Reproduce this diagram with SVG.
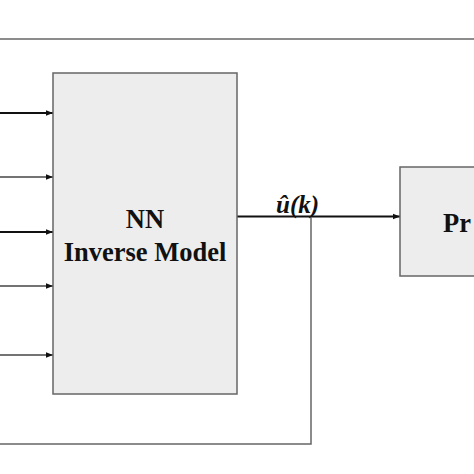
<svg xmlns="http://www.w3.org/2000/svg" width="474" height="474" viewBox="0 0 474 474">
<style>
.box{fill:#ededed;stroke:#666;stroke-width:1.5}
.ln{fill:none;stroke:#666;stroke-width:1.5}
.dk{fill:none;stroke:#111;stroke-width:2}
.md{fill:none;stroke:#444;stroke-width:1.3}
.t{font-family:"Liberation Serif","Times New Roman",serif;font-weight:bold;fill:#111}
</style>
<defs>
<marker id="ah" viewBox="0 0 10 10" refX="10" refY="5" markerWidth="7" markerHeight="7" markerUnits="userSpaceOnUse" orient="auto">
<path d="M0,1 L10,5 L0,9 z" fill="#111"/>
</marker>
</defs>
<rect width="474" height="474" fill="#fff"/>
<g id="connectors">
<line class="ln" x1="0" y1="39" x2="474" y2="39"/>
<line class="dk" x1="0" y1="113" x2="53" y2="113" marker-end="url(#ah)"/>
<line class="md" x1="0" y1="177" x2="53" y2="177" marker-end="url(#ah)"/>
<line class="dk" x1="0" y1="232" x2="53" y2="232" marker-end="url(#ah)"/>
<line class="md" x1="0" y1="286" x2="53" y2="286" marker-end="url(#ah)"/>
<line class="md" x1="0" y1="355" x2="53" y2="355" marker-end="url(#ah)"/>
<line class="dk" x1="237" y1="216.5" x2="400" y2="216.5" marker-end="url(#ah)"/>
<polyline class="ln" points="311,216.5 311,444 0,444"/>
<text class="t" x="276" y="213" font-size="25" font-style="italic">û(k)</text>
</g>
<g id="nn">
<rect class="box" x="53" y="73" width="184" height="321"/>
<text class="t" x="145" y="228" font-size="26.5" text-anchor="middle">NN</text>
<text class="t" x="145" y="261" font-size="26.5" text-anchor="middle">Inverse Model</text>
</g>
<g id="process">
<rect class="box" x="400" y="167" width="80" height="109"/>
<text class="t" x="443" y="232" font-size="26.5">Pr</text>
</g>
</svg>
